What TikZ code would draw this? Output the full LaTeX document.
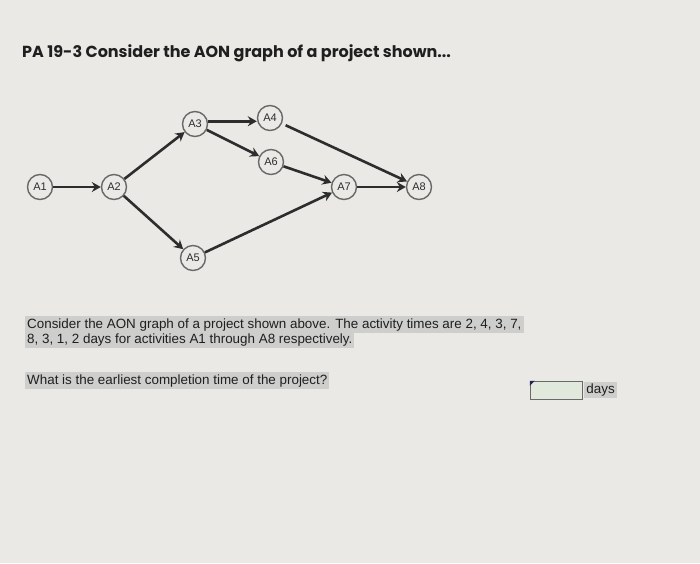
\documentclass[tikz,border=0pt]{standalone}
\usepackage{fontspec}
\setmainfont{Liberation Sans}
\newfontfamily\titlefont{Poppins}
\usetikzlibrary{positioning, arrows.meta}
\definecolor{paper}{RGB}{234,233,230}
\definecolor{hilite}{RGB}{206,206,204}
\definecolor{ink}{RGB}{45,45,45}
\definecolor{ringgray}{RGB}{105,105,105}
\definecolor{answerfill}{RGB}{224,233,219}

\begin{document}
\begin{tikzpicture}[
  x=1pt, y=-1pt,
  every node/.style={font=\sffamily},
  activity/.style={draw=ringgray, line width=1.4pt, circle, fill=paper, minimum size=25pt, inner sep=0pt, font=\fontsize{11}{12}\selectfont, text=ink},
  arrow/.style={draw=ink, line width=2.6pt, -{Stealth[length=9pt, width=10pt, inset=3pt]}},
  prose/.style={fill=hilite, inner xsep=2pt, inner ysep=2pt, anchor=base west, font=\fontsize{13.4}{15}\selectfont, text=black!88}
]
\useasboundingbox[fill=paper] (0,0) rectangle (700,563);

% Title
\node[anchor=base west, inner sep=0pt, font=\titlefont\bfseries\fontsize{16}{18}\selectfont, text=black!88] (title) at (22,57) {PA 19-3 Consider the AON graph of a project shown...};

% Activities
\node[activity] (a1) at (40,187) {A1};
\node[activity] (a2) at (114,187) {A2};
\node[activity] (a3) at (195,124) {A3};
\node[activity] (a4) at (270,118) {A4};
\node[activity] (a6) at (271,162) {A6};
\node[activity] (a5) at (193,258) {A5};
\node[activity] (a7) at (344,187) {A7};
\node[activity] (a8) at (419,187) {A8};

% Precedence arrows
\draw[arrow] (a1) -- (a2);
\draw[arrow] (a2) -- (a3);
\draw[arrow] (a2) -- (a5);
\draw[arrow] (a3.12) -- (a4.west |- a3.12);
\draw[arrow] (a3) -- (a6);
\draw[arrow, shorten <=4pt] (a4) -- (a8);
\draw[arrow] (a6) -- (a7);
\draw[arrow] (a5) -- (a7);
\draw[arrow] (a7) -- (a8);

% Question text
\node[prose] (line1) at (25,328) {Consider the AON graph of a project shown above. The activity times are 2, 4, 3, 7,};
\node[prose] (line2) at (25,343) {8, 3, 1, 2 days for activities A1 through A8 respectively.};
\node[prose] (question) at (25,384) {What is the earliest completion time of the project?};

% Answer field
\node[draw=ringgray, fill=answerfill, minimum width=52pt, minimum height=18pt, inner sep=0pt] (answer) at (556,390) {};
\fill[ink!80!blue] (answer.north west) -- ++(5,0) -- ++(-5,5) -- cycle;
\node[prose, right=2pt of answer.east, anchor=west] (unit) {days};

\end{tikzpicture}
\end{document}
